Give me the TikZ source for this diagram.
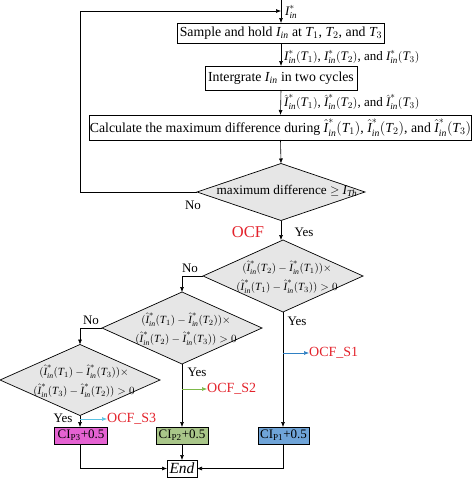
\documentclass[tikz,border=0pt]{standalone}
\usepackage{amsmath}
\usepackage{fontspec}
\setmainfont{Liberation Serif}
\usetikzlibrary{shapes.geometric,arrows.meta}
\definecolor{diagray}{HTML}{E6E6E6}
\definecolor{ocfred}{HTML}{E3222B}
\definecolor{cimag}{HTML}{E562D2}
\definecolor{cigreen}{HTML}{A9C689}
\definecolor{ciblue}{HTML}{6FA4D8}
\definecolor{arcyan}{HTML}{5CC3E3}
\definecolor{argreen}{HTML}{7DB94A}
\definecolor{arblue}{HTML}{2F80C3}
\newcommand\myIin{$\textit{I}_{\textit{in}}$}
\newcommand\myIs[1]{$\textit{I}^{*}_{\textit{in}}(\textit{T}_{#1})$}
\newcommand\myIh[1]{$\hat{\textit{I}}^{*}_{\textit{in}}(\textit{T}_{#1})$}
\newcommand\myIhm[1]{\hat{\textit{I}}^{*}_{\textit{in}}(\textit{T}_{#1})}
\tikzset{
  box/.style={draw, line width=0.7pt, inner sep=0pt, outer sep=0pt, font=\fontsize{13.8}{15}\selectfont},
  dia/.style={draw, diamond, fill=diagray, line width=0.7pt, inner sep=0pt, outer sep=0pt},
  dtext/.style={align=center, inner sep=0pt, font=\fontsize{11}{19}\selectfont},
  arr/.style={-{Latex[length=5pt,width=4pt]}, line width=0.6pt},
  lbl/.style={inner sep=0pt, font=\fontsize{13}{14}\selectfont},
  ocf/.style={inner sep=0pt, text=ocfred, font=\fontsize{14}{15}\selectfont},
  cibox/.style={box, minimum height=17pt, font=\fontsize{13}{14}\selectfont},
}
\begin{document}
\begin{tikzpicture}[x=1pt,y=-1pt]
\useasboundingbox (0,0) rectangle (474,479);
% main boxes
\node[box, minimum width=207pt, minimum height=20pt] (b1) at (281,33) {Sample and hold \myIin{} at $\textit{T}_1$, $\textit{T}_2$, and $\textit{T}_3$};
\node[box, minimum width=152pt, minimum height=24pt] (b2) at (281,78) {Intergrate \myIin{} in two cycles};
\node[box, minimum width=381pt, minimum height=25pt] (b3) at (280.5,127.5) {Calculate the maximum difference during \myIh{1}, \myIh{2}, and \myIh{3}};
% diamonds
\node[dia, minimum width=168pt, minimum height=57pt] (d1) at (281,192) {};
\node[dtext, font=\fontsize{13.2}{14}\selectfont] (t1) at (287,191) {maximum difference $\geq \textit{I}_{\textit{Th}}$};
\node[dia, minimum width=160pt, minimum height=72pt] (d2) at (283,276) {};
\node[dtext] (t2) at (287,277) {$(\myIhm{2}-\myIhm{1})\times$\\$(\myIhm{1}-\myIhm{3})>0$};
\node[dia, minimum width=160pt, minimum height=72pt] (d3) at (182,328) {};
\node[dtext] (t3) at (186,329) {$(\myIhm{1}-\myIhm{2})\times$\\$(\myIhm{2}-\myIhm{3})>0$};
\node[dia, minimum width=160pt, minimum height=71pt] (d4) at (80,380) {};
\node[dtext] (t4) at (84,381) {$(\myIhm{1}-\myIhm{3})\times$\\$(\myIhm{3}-\myIhm{2})>0$};
% result boxes
\node[cibox, fill=cimag, minimum width=53pt] (c3) at (81,435.5) {CI$_{\text{P3}}$+0.5};
\node[cibox, fill=cigreen, minimum width=52pt] (c2) at (182,435.5) {CI$_{\text{P2}}$+0.5};
\node[cibox, fill=ciblue, minimum width=51pt] (c1) at (283.5,435.5) {CI$_{\text{P1}}$+0.5};
\node[box, minimum width=30pt, minimum height=17pt, font=\fontsize{15.5}{16}\selectfont\itshape] (end) at (182,468.5) {End};
% coordinates
\coordinate (top) at (281,0);
\coordinate (fb) at (281,11);
\coordinate (fbl) at (80,11);
% main flow
\draw[arr] (top) -- (b1.north);
\draw[arr] (b1.south) -- (b2.north);
\draw[arr] (b2.south) -- (b3.north);
\draw[arr] (b3.south) -- (d1.north);
\draw[arr] (d1.south) -- (d1.south |- d2.north);
\draw[line width=0.6pt] (d1.west) -| (fbl);
\draw[arr] (fbl) -- (fb);
\draw[arr] (d2.west) -| (d3.north);
\draw[arr] (d3.west) -| (d4.north);
\draw[arr] (d4.south) -- (c3.north -| d4.south);
\draw[arr] (d3.south) -- (c2.north);
\draw[arr] (d2.south) -- (d2.south |- c1.north);
\draw[arr] (c3.south -| d4.south) |- (end.west);
\draw[arr] (c2.south) -- (end.north);
\draw[arr] (c1.south -| d2.south) |- (end.east);
% labels
\node[lbl, anchor=west] (lin) at (285,12) {$\textit{I}^{*}_{\textit{in}}$};
\node[lbl, anchor=west] (l1) at (284,57) {\myIs{1}, \myIs{2}, and \myIs{3}};
\node[lbl, anchor=west] (l2) at (284,102) {\myIh{1}, \myIh{2}, and \myIh{3}};
\node[lbl] (no1) at (193,205) {No};
\node[ocf, font=\fontsize{16.5}{17}\selectfont] (ocf) at (248,232) {OCF};
\node[lbl] (yes1) at (304,232) {Yes};
\node[lbl] (no2) at (190,268) {No};
\node[lbl] (no3) at (91,320) {No};
\node[lbl] (yes2) at (297,321) {Yes};
\node[lbl] (yes3) at (197,372) {Yes};
\node[lbl] (yes4) at (63,418) {Yes};
% OCF side arrows
\coordinate (s1) at (283,353);
\coordinate (s2) at (182,389);
\coordinate (s3) at (80,419);
\node[ocf, anchor=west] (o1) at (309,353) {OCF\_S1};
\node[ocf, anchor=west] (o2) at (207,389) {OCF\_S2};
\node[ocf, anchor=west] (o3) at (107,419) {OCF\_S3};
\draw[arr, arblue] (s1) -- (o1.west);
\draw[arr, argreen] (s2) -- (o2.west);
\draw[arr, arcyan] (s3) -- (o3.west);
\end{tikzpicture}
\end{document}
